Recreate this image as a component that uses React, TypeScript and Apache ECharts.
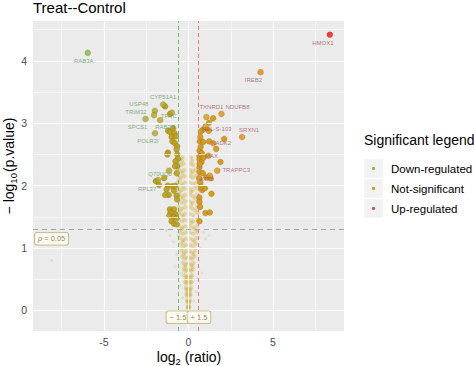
import React, { useEffect, useRef } from "react";
import * as echarts from "echarts";

// ---------- data ----------
const xTicks = [-5, 0, 5];
const yTicks = [0, 1, 2, 3, 4];
const xMinor = [-7.5, -2.5, 2.5, 7.5];
const yMinor = [0.5, 1.5, 2.5, 3.5, 4.5];
const foldCut = [-0.585, 0.585];
const pCut = 1.301;

const geneNames = ["RAB3A", "HMOX1", "IREB2", "SRXN1", "CYP51A1", "USP48", "TRIM32", "TFRC", "SPCS1", "RAB2B", "POLR2I", "Q70UQ0", "RPL37", "TXNRD1", "NDUFB8", "HEL-S-103", "NADK2", "MAX", "TRAPPC3", "ATF5"];
const geneLog2 = [-5.96, 8.36, 4.26, 3.17, -1.5, -1.99, -2.04, -0.99, -2.54, -1.68, -1.98, -1.15, -1.8, 1.06, 1.95, 1.02, 1.46, 1.18, 1.7, 1.26];
const geneLogP = [4.13, 4.42, 3.82, 2.78, 3.3, 3.2, 3.13, 3.17, 3.07, 3.05, 2.84, 2.24, 2.09, 3.1, 3.15, 2.95, 2.68, 2.48, 2.24, 2.16];

const sigLeft = [
  [-1.38, 3.27], [-1.1, 3.15], [-1.21, 2.88], [-1.1, 2.86], [-0.91, 2.92], [-0.83, 2.84], [-0.75, 2.79], [-1.0, 2.78],
  [-0.95, 2.71], [-0.8, 2.68], [-0.67, 2.63], [-0.7, 2.58], [-1.22, 2.53], [-1.25, 2.5], [-0.66, 2.5], [-0.63, 2.43],
  [-0.77, 2.39], [-0.67, 2.31], [-0.8, 2.31], [-0.7, 2.2], [-1.44, 2.12], [-1.93, 2.07], [-1.74, 2.01], [-1.23, 2.0],
  [-0.98, 1.99], [-0.78, 2.0], [-1.3, 1.94], [-1.17, 1.85], [-1.38, 1.85], [-0.86, 1.92], [-0.7, 1.84], [-0.67, 1.78],
  [-1.1, 1.62], [-0.86, 1.62], [-1.06, 1.57], [-0.77, 1.54], [-1.13, 1.52], [-0.86, 1.5], [-1.0, 1.43], [-0.7, 1.48],
  [-0.86, 1.39], [-0.7, 1.38],
];
const sigRight = [
  [1.46, 3.08], [1.22, 3.01], [0.87, 2.9], [0.73, 2.87], [1.2, 2.88], [2.11, 2.75], [0.67, 2.71], [0.87, 2.7],
  [1.22, 2.71], [1.64, 2.59], [0.65, 2.56], [0.79, 2.52], [0.65, 2.47], [0.65, 2.42], [1.89, 2.38], [0.77, 2.38],
  [0.65, 2.3], [0.65, 2.22], [1.06, 2.13], [0.63, 2.12], [0.81, 1.93], [0.97, 1.96], [1.36, 1.87], [0.65, 1.81],
  [0.65, 1.74], [0.69, 1.66], [1.0, 1.56], [1.26, 1.57], [0.65, 1.43], [0.7, 2.05], [0.75, 1.98], [0.66, 2.35],
  [0.72, 2.62], [0.7, 2.78], [0.85, 2.2], [0.9, 2.45], [1.3, 2.12],
];

// non-significant proteins (dense volcano arms)
const nsLeft = [
  [-0.01, 0.05], [-0.02, 0.07], [-0.03, 0.04], [-0.02, 0.15], [-0.05, 0.13], [-0.07, 0.16], [-0.03, 0.25], [-0.08, 0.23], [-0.12, 0.26],
  [-0.04, 0.35], [-0.1, 0.33], [-0.16, 0.36], [-0.05, 0.45], [-0.13, 0.43], [-0.2, 0.46], [-0.06, 0.55], [-0.15, 0.53], [-0.25, 0.56],
  [-0.08, 0.65], [-0.18, 0.63], [-0.29, 0.66], [-0.1, 0.75], [-0.21, 0.73], [-0.33, 0.76], [-0.11, 0.85], [-0.23, 0.83], [-0.37, 0.86],
  [-0.13, 0.95], [-0.26, 0.93], [-0.41, 0.96], [-0.15, 1.05], [-0.29, 1.03], [-0.45, 1.06], [-0.17, 1.15], [-0.32, 1.13], [-0.49, 1.16],
  [-0.19, 1.25], [-0.35, 1.23], [-0.53, 1.26], [-0.2, 1.35], [-0.37, 1.33], [-0.56, 1.36], [-0.21, 1.45], [-0.38, 1.43], [-0.57, 1.46],
  [-0.21, 1.55], [-0.39, 1.53], [-0.58, 1.56], [-0.22, 1.65], [-0.4, 1.63], [-0.59, 1.66], [-0.22, 1.75], [-0.41, 1.73], [-0.6, 1.76],
  [-0.22, 1.85], [-0.42, 1.83], [-0.6, 1.86], [-0.23, 1.95], [-0.42, 1.93], [-0.61, 1.96], [-0.23, 2.05], [-0.43, 2.03], [-0.62, 2.06],
  [-0.24, 2.15], [-0.44, 2.13], [-0.62, 2.16], [-0.26, 2.25], [-0.45, 2.23], [-0.6, 2.26], [-0.3, 2.35], [-0.46, 2.33], [-0.58, 2.36],
  [-0.35, 2.45], [-0.48, 2.43],
  [-0.06, 0.3], [-0.12, 0.5], [-0.2, 0.7], [-0.27, 0.9], [-0.33, 1.1], [-0.4, 1.3], [-0.3, 1.5], [-0.5, 1.6], [-0.32, 1.8], [-0.52, 1.9],
  [-0.33, 2.0], [-0.53, 2.1], [-0.36, 2.2], [-0.4, 2.4],
];
const nsRight = [
  [0.01, 0.05], [0.02, 0.07], [0.03, 0.04], [0.02, 0.15], [0.04, 0.13], [0.07, 0.16], [0.03, 0.25], [0.07, 0.23], [0.11, 0.26],
  [0.04, 0.35], [0.09, 0.33], [0.15, 0.36], [0.05, 0.45], [0.11, 0.43], [0.19, 0.46], [0.06, 0.55], [0.14, 0.53], [0.23, 0.56],
  [0.07, 0.65], [0.16, 0.63], [0.27, 0.66], [0.07, 0.75], [0.18, 0.73], [0.31, 0.76], [0.08, 0.85], [0.2, 0.83], [0.35, 0.86],
  [0.08, 0.95], [0.23, 0.93], [0.39, 0.96], [0.08, 1.05], [0.25, 1.03], [0.43, 1.06], [0.08, 1.15], [0.27, 1.13], [0.47, 1.16],
  [0.08, 1.25], [0.28, 1.23], [0.5, 1.26], [0.07, 1.35], [0.28, 1.33], [0.52, 1.36], [0.07, 1.45], [0.28, 1.43], [0.53, 1.46],
  [0.06, 1.55], [0.27, 1.53], [0.53, 1.56], [0.06, 1.65], [0.27, 1.63], [0.54, 1.66], [0.05, 1.75], [0.26, 1.73], [0.53, 1.76],
  [0.05, 1.85], [0.26, 1.83], [0.52, 1.86], [0.05, 1.95], [0.25, 1.93], [0.5, 1.96], [0.06, 2.05], [0.25, 2.03], [0.48, 2.06],
  [0.08, 2.15], [0.26, 2.13], [0.45, 2.16], [0.1, 2.25], [0.27, 2.23], [0.42, 2.26], [0.13, 2.35], [0.28, 2.33], [0.17, 2.45],
  [0.06, 0.3], [0.12, 0.5], [0.21, 0.7], [0.3, 0.9], [0.36, 1.1], [0.4, 1.3], [0.16, 1.4], [0.42, 1.6], [0.16, 1.7], [0.4, 1.8],
  [0.15, 1.9], [0.37, 2.0], [0.17, 2.2], [0.22, 2.4],
];
const nsScatter = [
  [-0.7, 0.9], [-0.9, 1.1], [0.7, 1.0], [0.8, 0.6], [-0.5, 0.4], [0.45, 0.3], [-1.1, 1.2], [1.0, 1.15], [-0.35, 0.2], [0.3, 0.15],
  [-8.1, 0.8], [-0.8, 0.7], [0.6, 0.8], [-0.6, 1.2], [0.9, 1.25], [-1.3, 1.28], [1.2, 1.2], [-0.4, 0.6], [0.5, 0.5], [-0.2, 1.7], [0.15, 1.9],
];

const legendItems = ["Down-regulated", "Not-significant", "Up-regulated"];

// ---------- styles ----------
const FONT = "'Liberation Sans', Arial, Helvetica, sans-serif";
const labelOffsets = [[-4, 8], [-7, 8], [-7, 8], [7, -7], [0, -8], [-16, -7], [-18, -3], [-3, 3], [-8, 8], [5, 7], [-7, 8], [-9, 3], [-11, 9], [5, -10], [16, -7], [11, 3], [8, 0], [3, 0], [19, -1], [-3, 3]];
const legendColors = ["#86BC3A", "#B89F22", "#D0553C"];

const colorStops: [number, number[]][] = [
  [-6, [122, 184, 58]], [-1.5, [182, 162, 32]], [0, [200, 158, 22]], [1.5, [212, 152, 18]],
  [3.2, [222, 138, 20]], [4.3, [232, 122, 16]], [8.4, [238, 18, 16]],
];
function colorFor(x: number): string {
  if (x <= colorStops[0][0]) return `rgb(${colorStops[0][1].join(",")})`;
  for (let i = 1; i < colorStops.length; i++) {
    const [x1, c1] = colorStops[i];
    const [x0, c0] = colorStops[i - 1];
    if (x <= x1) {
      const t = (x - x0) / (x1 - x0);
      const c = c0.map((v, k) => Math.round(v + (c1[k] - v) * t));
      return `rgb(${c.join(",")})`;
    }
  }
  return `rgb(${colorStops[colorStops.length - 1][1].join(",")})`;
}

export default function App() {
  const ref = useRef<HTMLDivElement>(null);
  useEffect(() => {
    if (!ref.current) return;
    const chart = echarts.init(ref.current, null, { renderer: "svg" });

    const sigData = [...sigLeft, ...sigRight].map(([x, y]) => ({
      value: [x, y],
      itemStyle: { color: colorFor(x) },
    }));
    const geneData = geneNames.map((n, i) => ({
      name: n,
      value: [geneLog2[i], geneLogP[i]],
      itemStyle: { color: colorFor(geneLog2[i]) },
      label: {
        show: true,
        position: "inside",
        offset: labelOffsets[i],
        formatter: n,
        color: geneLog2[i] < 0 ? "#5A9C5E" : "#A5505E",
      },
    }));
    const armData = [...nsLeft, ...nsRight];

    const option: any = {
      animation: false,
      grid: {
        left: 33, top: 21, width: 311, height: 310,
        show: true, backgroundColor: "#EBEBEB", borderWidth: 0,
      },
      xAxis: {
        type: "value", min: -9.2, max: 9.2,
        axisLine: { show: false },
        splitLine: { show: false },
        axisTick: { show: true, length: 3, lineStyle: { color: "#333333", width: 1 }, customValues: xTicks },
        axisLabel: { customValues: xTicks, color: "#4D4D4D", fontSize: 10.5, margin: 5, fontFamily: FONT },
      },
      yAxis: {
        type: "value", min: -0.33, max: 4.64,
        axisLine: { show: false },
        splitLine: { show: false },
        axisTick: { show: true, length: 3, lineStyle: { color: "#333333", width: 1 }, customValues: yTicks },
        axisLabel: { customValues: yTicks, color: "#4D4D4D", fontSize: 10.5, margin: 6, fontFamily: FONT },
      },
      series: [
        {
          type: "scatter", data: [], z: 1, silent: true,
          markLine: {
            silent: true, symbol: ["none", "none"], label: { show: false }, animation: false,
            emphasis: { disabled: true },
            lineStyle: { color: "#FFFFFF", width: 1.2, type: "solid" },
            data: [
              ...xTicks.map((v) => ({ xAxis: v })),
              ...yTicks.map((v) => ({ yAxis: v })),
              ...xMinor.map((v) => ({ xAxis: v, lineStyle: { width: 0.6 } })),
              ...yMinor.map((v) => ({ yAxis: v, lineStyle: { width: 0.6 } })),
            ],
          },
        },
        {
          type: "scatter", z: 2, silent: true, symbolSize: 3,
          itemStyle: { color: "rgba(196,184,140,0.35)" },
          data: nsScatter,
        },
        {
          type: "scatter", z: 2, silent: true, symbolSize: 6,
          itemStyle: { color: "rgba(222,196,110,0.08)" },
          data: armData,
        },
        {
          type: "scatter", z: 2, silent: true, symbolSize: 4,
          itemStyle: { color: "rgba(208,168,40,0.42)" },
          data: armData,
        },
        {
          type: "scatter", data: [], z: 3, silent: true,
          markLine: {
            silent: true, symbol: ["none", "none"], label: { show: false }, animation: false,
            emphasis: { disabled: true },
            data: [
              { xAxis: foldCut[0], lineStyle: { color: "#6DBF6D", width: 1, type: [4, 3] } },
              { xAxis: foldCut[1], lineStyle: { color: "#F07A7A", width: 1, type: [4, 3] } },
              { yAxis: pCut, lineStyle: { color: "#A6A6A6", width: 1, type: [5, 4] } },
            ],
          },
        },
        {
          type: "scatter", z: 4, silent: true, symbolSize: 5.8,
          itemStyle: { borderColor: "rgba(110,80,0,0.45)", borderWidth: 0.5, opacity: 0.95 },
          data: sigData,
        },
        {
          type: "scatter", z: 5, silent: true, symbolSize: 6,
          itemStyle: { borderColor: "rgba(110,60,0,0.4)", borderWidth: 0.5 },
          label: { fontSize: 6, fontFamily: FONT },
          data: geneData,
        },
        {
          type: "scatter", z: 6, silent: true, symbolSize: 0,
          label: {
            show: true, position: "inside", fontSize: 7.5, fontFamily: FONT, color: "#7D6E2E",
            backgroundColor: "#FFFEF4", borderColor: "#B3A463", borderWidth: 0.8, borderRadius: 2,
            padding: [2, 3],
            rich: { i: { fontStyle: "italic", fontSize: 7.5, color: "#7D6E2E", fontFamily: FONT } },
          },
          data: [
            { value: [-8.1, 1.15], label: { formatter: "{i|p} = 0.05" } },
            { value: [-0.63, -0.11], label: { formatter: "− 1.5" } },
            { value: [0.62, -0.11], label: { formatter: "+ 1.5" } },
          ],
        },
      ],
      graphic: [
        {
          type: "text", left: 33, top: 0,
          style: { text: "Treat--Control", fontSize: 15, fontFamily: FONT, fill: "#000" },
        },
        {
          type: "text", x: 9, y: 166, rotation: Math.PI / 2,
          style: {
            text: "{a|− log}{s|10}{a|(p.value)}",
            align: "center", verticalAlign: "middle",
            rich: {
              a: { fontSize: 14, fontFamily: FONT, fill: "#000" },
              s: { fontSize: 9.5, fontFamily: FONT, fill: "#000", padding: [8, 1, 0, 0] },
            },
          },
        },
        {
          type: "text", x: 189, y: 357,
          style: {
            text: "{a|log}{s|2}{a| (ratio)}",
            align: "center", verticalAlign: "middle",
            rich: {
              a: { fontSize: 14, fontFamily: FONT, fill: "#000" },
              s: { fontSize: 9.5, fontFamily: FONT, fill: "#000", padding: [8, 0, 0, 0] },
            },
          },
        },
        {
          type: "text", x: 364, y: 140,
          style: { text: "Significant legend", fontSize: 14, fontFamily: FONT, fill: "#000", verticalAlign: "middle" },
        },
        ...legendItems.flatMap((name, i) => [
          { type: "rect", shape: { x: 364, y: 159 + i * 20, width: 19, height: 19 }, style: { fill: "#F2F2F2", stroke: "#FFFFFF", lineWidth: 0.5 } },
          { type: "circle", shape: { cx: 373.5, cy: 168.5 + i * 20, r: 1.6 }, style: { fill: legendColors[i] } },
          { type: "text", x: 391, y: 168.5 + i * 20, style: { text: name, fontSize: 11.5, fontFamily: FONT, fill: "#000", verticalAlign: "middle" } },
        ]),
      ],
    };
    chart.setOption(option);
    return () => chart.dispose();
  }, []);
  return <div ref={ref} style={{ position: "fixed", left: 0, top: 0, width: 474, height: 366, background: "#fff" }} />;
}
